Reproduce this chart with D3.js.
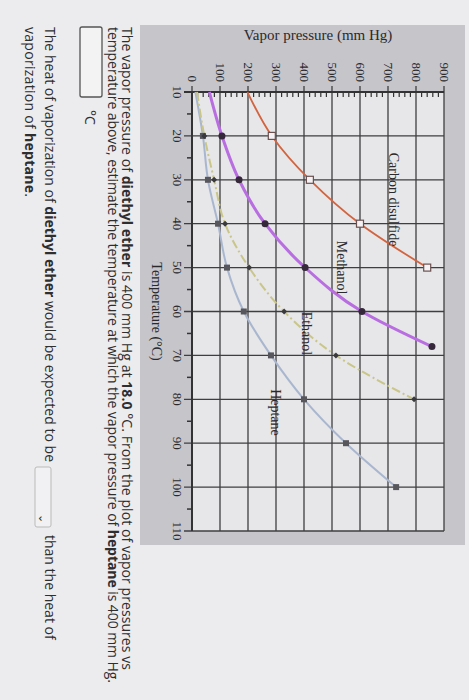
<!DOCTYPE html>
<html><head><meta charset="utf-8">
<script src="https://cdn.jsdelivr.net/npm/d3@7"></script>
<style>body{margin:0;background:#ecebed}svg{display:block}</style>
</head><body>
<svg id="c" width="469" height="700"></svg>
<script>
const tempTicks=[10,20,30,40,50,60,70,80,90,100,110];
const pressTicks=[0,100,200,300,400,500,600,700,800,900];
const cs2T=[10,20,30,40,50], cs2P=[198,285,421,600,840];
const methT=[10,20,30,40,50,60,68], methP=[62,107,168,261,404,607,857];
const ethT=[10,20,30,40,50,60,70,80], ethP=[18,44,79,118,204,329,514,793];
const hepT=[10,20,30,40,50,60,70,80,90,100], hepP=[12,39,57,93,125,185,282,400,550,729];
const labels=[{t:"Carbon disulfide",T:34.5,P:720},{t:"Methanol",T:50,P:535},{t:"Ethanol",T:65,P:410},{t:"Heptane",T:83,P:300}];

const svg=d3.select("#c");
const g=svg.append("g").attr("transform","translate(469,0) rotate(90)");
const x=d3.scaleLinear().domain([10,110]).range([92,531]);
const y=d3.scaleLinear().domain([0,900]).range([277,25]);
const serif="'Liberation Serif','DejaVu Serif',serif";

g.append("rect").attr("x",25).attr("y",4).attr("width",520).attr("height",325).attr("fill","#c6c5ca");
g.append("rect").attr("x",x(10)).attr("y",y(900)).attr("width",x(110)-x(10)).attr("height",y(0)-y(900)).attr("fill","#e7e6e8");
g.selectAll(".gv").data(tempTicks).join("line").attr("x1",d=>x(d)).attr("x2",d=>x(d)).attr("y1",y(900)).attr("y2",y(0)+8).attr("stroke","#3f3e42").attr("stroke-width",1.3);
g.selectAll(".gh").data(pressTicks).join("line").attr("x1",x(10)-6).attr("x2",x(110)).attr("y1",d=>y(d)).attr("y2",d=>y(d)).attr("stroke","#3f3e42").attr("stroke-width",1.3);
g.append("line").attr("x1",x(10)).attr("x2",x(10)).attr("y1",y(900)).attr("y2",y(0)+8).attr("stroke","#333").attr("stroke-width",2);
g.append("line").attr("x1",x(10)).attr("x2",x(110)).attr("y1",y(0)).attr("y2",y(0)).attr("stroke","#333").attr("stroke-width",2);
g.selectAll(".mp").data(d3.range(0,900,20).filter(d=>d%100)).join("line").attr("x1",x(10)).attr("x2",x(10)+5).attr("y1",d=>y(d)).attr("y2",d=>y(d)).attr("stroke","#333").attr("stroke-width",1.2);
g.selectAll(".mt").data(d3.range(15,110,10)).join("line").attr("x1",d=>x(d)).attr("x2",d=>x(d)).attr("y1",y(0)).attr("y2",y(0)+5).attr("stroke","#333").attr("stroke-width",1.5);
g.selectAll(".pl").data(pressTicks).join("text").attr("x",x(10)-10).attr("y",d=>y(d)+4.5).attr("text-anchor","end").attr("font-family",serif).attr("font-size",13).attr("fill","#2a2a2e").text(d=>d);
g.selectAll(".tl").data(tempTicks).join("text").attr("x",d=>x(d)).attr("y",y(0)+19).attr("text-anchor","middle").attr("font-family",serif).attr("font-size",13).attr("fill","#2a2a2e").text(d=>d);
g.append("text").attr("transform",`translate(40,${(y(0)+y(900))/2}) rotate(-90)`).attr("text-anchor","middle").attr("font-family",serif).attr("font-size",15).attr("fill","#2a2a2e").text("Vapor pressure (mm Hg)");
g.append("text").attr("x",(x(10)+x(110))/2).attr("y",y(0)+40).attr("text-anchor","middle").attr("font-family",serif).attr("font-size",14).attr("fill","#2a2a2e").text("Temperature (°C)");
const line=(T,P)=>d3.line().x((d,i)=>x(T[i])).y((d,i)=>y(P[i])).curve(d3.curveMonotoneX)(T);
g.append("path").attr("d",line(hepT,hepP)).attr("fill","none").attr("stroke","#a8b7cf").attr("stroke-width",2);
g.append("path").attr("d",line(ethT,ethP)).attr("fill","none").attr("stroke","#c9c68a").attr("stroke-width",2).attr("stroke-dasharray","9,3,2,3");
g.append("path").attr("d",line(methT,methP)).attr("fill","none").attr("stroke","#b86ee0").attr("stroke-width",3);
g.append("path").attr("d",line(cs2T,cs2P)).attr("fill","none").attr("stroke","#d2643f").attr("stroke-width",1.8);
const sq=(T,P,s,fill,stroke)=>g.selectAll(null).data(T.slice(1)).join("rect").attr("x",(d,i)=>x(d)-s/2).attr("y",(d,i)=>y(P[i+1])-s/2).attr("width",s).attr("height",s).attr("fill",fill).attr("stroke",stroke).attr("stroke-width",1.2);
sq(hepT,hepP,6,"#57565c","none");
g.selectAll(null).data(ethT.slice(1)).join("path").attr("d",(d,i)=>`M${x(d)},${y(ethP[i+1])-3}l3,3l-3,3l-3,-3z`).attr("fill","#3a3a3e");
g.selectAll(null).data(methT.slice(1)).join("circle").attr("cx",d=>x(d)).attr("cy",(d,i)=>y(methP[i+1])).attr("r",3.5).attr("fill","#35283a");
sq(cs2T,cs2P,7,"#f4f2f4","#6b5050");
g.selectAll(".lb").data(labels).join("text").attr("x",d=>x(d.T)).attr("y",d=>y(d.P)+5).attr("text-anchor","middle").attr("font-family",serif).attr("font-size",14).attr("fill","#2a2a2e").text(d=>d.t);
const sans="'Open Sans','Noto Sans',sans-serif";
const para=(v,parts,u0,len)=>{const t=g.append("text").attr("x",u0).attr("y",v).attr("font-family",sans).attr("font-size",14).attr("fill","#2e2e30");if(len)t.attr("textLength",len).attr("lengthAdjust","spacing");parts.forEach(p=>t.append("tspan").attr("font-weight",p[1]?"bold":null).text(p[0]));return t;};
para(347,[["The vapor pressure of "],["diethyl ether",1],[" is 400 mm Hg at "],["18.0",1],[" °C. From the plot of vapor pressures vs"]],27,643);
para(361,[["temperature above, estimate the temperature at which the vapor pressure of "],["heptane",1],[" is 400 mm Hg."]],27,656);
g.append("rect").attr("x",27).attr("y",367).attr("width",70).attr("height",22).attr("rx",2).attr("fill","#f4f3f4").attr("stroke","#555").attr("stroke-width",1.3);
para(384,[["°C"]],110);
para(424,[["The heat of vaporization of "],["diethyl ether",1],[" would be expected to be"]],27,435);
g.append("rect").attr("x",467).attr("y",418).attr("width",60).attr("height",16).attr("rx",2).attr("fill","#f1f0f2").attr("stroke","#bbb");
g.append("text").attr("x",514).attr("y",430).attr("font-family",sans).attr("font-size",11).attr("fill","#333").text("⌄");
para(424,[["than the heat of"]],535);
para(444,[["vaporization of "],["heptane",1],["."]],27,170);
</script></body></html>
